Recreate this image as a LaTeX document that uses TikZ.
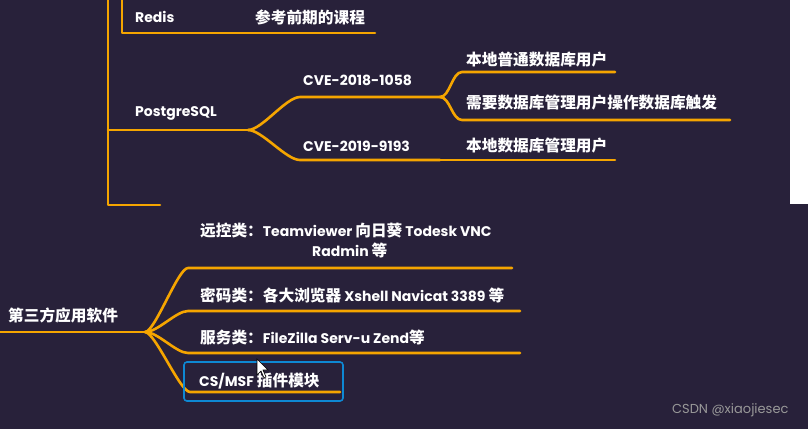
\documentclass[tikz,border=0pt]{standalone}
\usepackage{fontspec}
\setmainfont{Poppins}
\newfontfamily\cjk[Scale=1.12]{Noto Sans CJK SC}
\newcommand{\zh}[1]{{\cjk\bfseries #1}}
\begin{document}
\begin{tikzpicture}[x=1pt,y=-1pt]
\definecolor{bg}{HTML}{28213A}
\definecolor{ln}{HTML}{F5A500}
\tikzset{br/.style={draw=ln, line width=2.6pt, line cap=round, line join=round},
  lbl/.style={anchor=west, text=white, font=\bfseries\fontsize{14}{18}\selectfont, inner sep=0pt}}
\fill[bg] (0,0) rectangle (808,429);
\useasboundingbox (0,0) rectangle (808,429);
\fill[white] (790,0) rectangle (808,204);
% top tree
\coordinate (t0) at (108,-3); \coordinate (t1) at (108,205); \coordinate (t2) at (160,205);
\draw[br] (t0) -- (t1) -- (t2);
\coordinate (r0) at (122,-3); \coordinate (r1) at (122,33); \coordinate (r2) at (375,33);
\draw[br] (r0) -- (r1) -- (r2);
\node[lbl] (redis) at (135,17) {Redis};
\node[lbl] (redisc) at (255,17) {\zh{参考前期的课程}};
\coordinate (p0) at (108,130); \coordinate (p1) at (248,130);
\draw[br] (p0) -- (p1);
\node[lbl] (pg) at (135,113) {PostgreSQL};
\coordinate (c1a) at (300,97); \coordinate (c1b) at (440,97);
\coordinate (c2a) at (300,160); \coordinate (c2b) at (440,160);
\draw[br] (p1) .. controls (262,130) and (286,97) .. (c1a) -- (c1b);
\draw[br] (p1) .. controls (262,130) and (286,160) .. (c2a) -- (c2b);
\node[lbl] (cve1) at (303,80) {CVE-2018-1058};
\node[lbl] (cve2) at (303,146) {CVE-2019-9193};
\coordinate (d1a) at (462,72); \coordinate (d1b) at (615,72);
\coordinate (d2a) at (462,120); \coordinate (d2b) at (730,120);
\coordinate (d3b) at (615,160);
\draw[br] (c1b) .. controls (450,97) and (452,72) .. (d1a) -- (d1b);
\draw[br] (c1b) .. controls (450,97) and (452,120) .. (d2a) -- (d2b);
\draw[br] (c2b) -- (d3b);
\node[lbl] (u1) at (466,60) {\zh{本地普通数据库用户}};
\node[lbl] (u2) at (466,103) {\zh{需要数据库管理用户操作数据库触发}};
\node[lbl] (u3) at (466,146) {\zh{本地数据库管理用户}};
% third-party
\coordinate (s0) at (0,332); \coordinate (s1) at (145,332);
\draw[br] (s0) -- (s1);
\node[lbl] (sw) at (8,315) {\zh{第三方应用软件}};
\coordinate (e1a) at (188,268); \coordinate (e1b) at (512,268);
\coordinate (e2a) at (188,311); \coordinate (e2b) at (520,311);
\coordinate (e3a) at (188,353); \coordinate (e3b) at (520,353);
\coordinate (e4a) at (190,392); \coordinate (e4b) at (340,392);
\draw[br] (s1) .. controls (155,332) and (178,268) .. (e1a) -- (e1b);
\draw[br] (s1) .. controls (158,332) and (176,311) .. (e2a) -- (e2b);
\draw[br] (s1) .. controls (158,332) and (176,353) .. (e3a) -- (e3b);
\draw[br] (s1) .. controls (155,332) and (180,392) .. (e4a) -- (e4b);
\node[lbl] (rc1) at (200,231) {\zh{远控类：}Teamviewer \zh{向日葵} Todesk VNC};
\node[lbl] (rc2) at (312,250) {Radmin \zh{等}};
\node[lbl] (pw) at (200,295) {\zh{密码类：各大浏览器} Xshell Navicat 3389 \zh{等}};
\node[lbl] (sv) at (200,337) {\zh{服务类：}FileZilla Serv-u Zend\zh{等}};
\draw[draw=cyan!70!blue, line width=1.6pt, rounded corners=3pt] (184,362) rectangle (343,401);
\node[lbl] (cs) at (199,381) {CS/MSF \zh{插件模块}};
\fill[white, draw=black, line width=0.6pt] (257,359) -- (257,375) -- (261,371) -- (264,378) -- (266,377) -- (263,370) -- (268,370) -- cycle;
\node[anchor=east, text=gray!80, font=\fontsize{13}{15}\selectfont] (wm) at (792,410) {CSDN @xiaojiesec};
\end{tikzpicture}
\end{document}
